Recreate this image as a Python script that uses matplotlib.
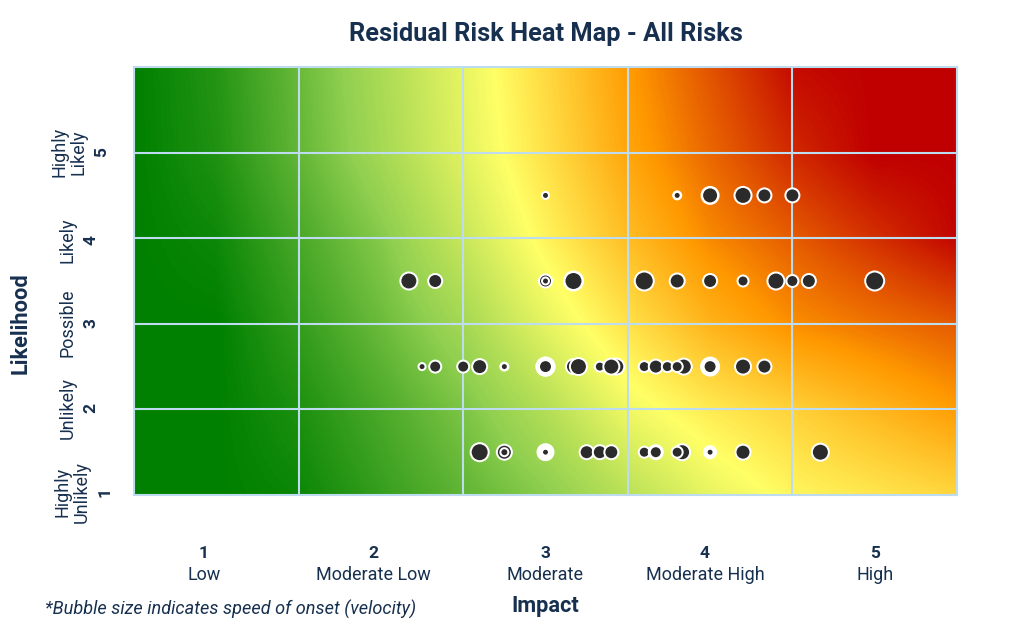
# %%
# Residual risk heat map
import numpy as np
import matplotlib
matplotlib.use('Agg')
import matplotlib.pyplot as plt
from matplotlib.colors import LinearSegmentedColormap

plt.rcParams['font.family'] = ['Roboto', 'DejaVu Sans']

# %%
# Data
impact_labels = ['Low', 'Moderate Low', 'Moderate', 'Moderate High', 'High']
likelihood_labels = ['Highly\nUnlikely', 'Unlikely', 'Possible', 'Likely', 'Highly\nLikely']

# background score, one row per grid line (bottom first),
# one column per half cell of impact
score_grid = [
    [0.00, 0.000, 0.02, 0.094, 0.165, 0.238, 0.34, 0.444, 0.52, 0.56, 0.60],
    [0.00, 0.000, 0.05, 0.130, 0.214, 0.327, 0.465, 0.548, 0.61, 0.675, 0.74],
    [0.00, 0.000, 0.09, 0.184, 0.291, 0.441, 0.569, 0.685, 0.766, 0.81, 0.85],
    [0.00, 0.024, 0.126, 0.23, 0.373, 0.525, 0.66, 0.774, 0.847, 0.92, 0.99],
    [0.00, 0.055, 0.17, 0.294, 0.431, 0.574, 0.718, 0.83, 0.932, 1.00, 1.00],
    [0.00, 0.064, 0.18, 0.307, 0.445, 0.591, 0.741, 0.862, 0.981, 1.00, 1.00],
]

# bubbles per likelihood row, in drawing order
row1_x = [2.60, 2.75, 2.75, 3.00, 3.25, 3.33, 3.40, 3.60, 3.67, 3.83, 3.80, 4.00, 4.20, 4.67]
row1_v = [8.0, 6.5, 3.0, 2.5, 6.0, 6.0, 6.0, 4.5, 5.0, 7.0, 4.5, 2.5, 6.5, 7.5]
row1_h = [2, 2, 2, 6.5, 2, 2, 2, 2, 3, 2, 2, 4.5, 2, 2]

row2_x = [2.25, 2.33, 2.50, 2.60, 2.75, 3.00, 3.00, 3.17, 3.20, 3.33, 3.43, 3.40, 3.60, 3.67, 3.74, 3.84, 3.80, 4.00, 4.20, 4.33]
row2_v = [2.5, 5.0, 5.0, 6.5, 2.5, 8.0, 5.5, 6.5, 7.5, 4.0, 7.0, 7.0, 4.5, 6.0, 4.5, 7.0, 4.5, 5.5, 7.0, 6.0]
row2_h = [2, 2, 2, 2, 2.5, 2, 4.5, 2, 2, 2, 2, 2, 2, 2, 2, 2, 2, 4.5, 2, 2]

row3_x = [2.17, 2.33, 3.00, 3.00, 3.17, 3.60, 3.80, 4.00, 4.20, 4.40, 4.50, 4.60, 5.00]
row3_v = [7.5, 6.0, 5.5, 2.5, 8.0, 8.5, 6.5, 6.0, 4.5, 7.5, 5.0, 6.0, 8.5]
row3_h = [2, 2, 2, 2, 2.5, 2, 2, 2, 2, 2, 2, 2, 2]

row4_x = [3.00, 3.80, 4.00, 4.20, 4.33, 4.50]
row4_v = [2.5, 2.5, 7.0, 7.5, 6.0, 6.0]
row4_h = [2, 2.5, 2.5, 2, 2, 2]

# %%
# Figure
W, H = 1024, 632
fig = plt.figure(figsize=(W / 100, H / 100), dpi=100)
ax = fig.add_axes([134 / W, 1 - 495 / H, (957 - 134) / W, (495 - 67) / H])

navy = '#17304f'
grid_col = '#bddcf0'
dark = '#2b2b2b'


def px_text(x, y, s, **kw):
    fig.text(x / W, 1 - y / H, s, ha='center', va='center', color=navy, **kw)


# %%
# Background
cmap = LinearSegmentedColormap.from_list('risk', [
    (0.00, '#008000'),
    (0.25, '#92d050'),
    (0.50, '#ffff66'),
    (0.75, '#ff9900'),
    (1.00, '#c00000'),
])
# imshow puts values at pixel centres, so the extent sticks out half a step
ax.imshow(np.array(score_grid), cmap=cmap, vmin=0, vmax=1, origin='lower',
          extent=(0.25, 5.75, 0, 6), interpolation='bilinear', aspect='auto', zorder=0)
ax.set_xlim(0.5, 5.5)
ax.set_ylim(0.5, 5.5)

ax.set_xticks(np.arange(1.5, 5.5))
ax.set_yticks(np.arange(1.5, 5.5))
ax.grid(True, color=grid_col, linewidth=1.5)
ax.tick_params(length=0, labelbottom=False, labelleft=False)
for s in ax.spines.values():
    s.set_color(grid_col)
    s.set_linewidth(1.5)

# %%
# Bubbles
rows = [(1, row1_x, row1_v, row1_h), (2, row2_x, row2_v, row2_h),
        (3, row3_x, row3_v, row3_h), (4, row4_x, row4_v, row4_h)]
for level, xs, vs, hs in rows:
    vs = np.array(vs)
    hs = np.array(hs)
    # sizes are pixels here, scatter wants points
    d = 2 * (vs + hs / 2) * 0.72
    ax.scatter(xs, [level] * len(xs), s=d ** 2, c=dark, edgecolors='white',
               linewidths=hs * 0.72, zorder=3, clip_on=False)

# %%
# Text
px_text(546, 33.5, 'Residual Risk Heat Map - All Risks', fontsize=18.3, fontweight='bold')

impact_px = [204, 373, 545, 705, 875]
for i, name in enumerate(impact_labels):
    px_text(impact_px[i], 553, str(i + 1), fontsize=12.5, fontweight='bold')
    px_text(impact_px[i], 575, name, fontsize=13)

likelihood_py = [492, 408, 323, 240, 152]
likelihood_lab_x = [72, 68, 68, 68, 69]
likelihood_num_x = [105, 91, 91, 91, 102]
for i, name in enumerate(likelihood_labels):
    px_text(likelihood_num_x[i], likelihood_py[i], str(i + 1), fontsize=12.5, fontweight='bold', rotation=90)
    px_text(likelihood_lab_x[i], likelihood_py[i], name, fontsize=13, rotation=90, linespacing=1.12)

px_text(545, 606, 'Impact', fontsize=15.7, fontweight='bold')
px_text(21, 323, 'Likelihood', fontsize=15.7, fontweight='bold', rotation=90)
fig.text(45 / W, 1 - 609 / H, '*Bubble size indicates speed of onset (velocity)',
         ha='left', va='center', color=navy, fontsize=13.1, fontstyle='italic')

fig.savefig('out.png', dpi=100)
